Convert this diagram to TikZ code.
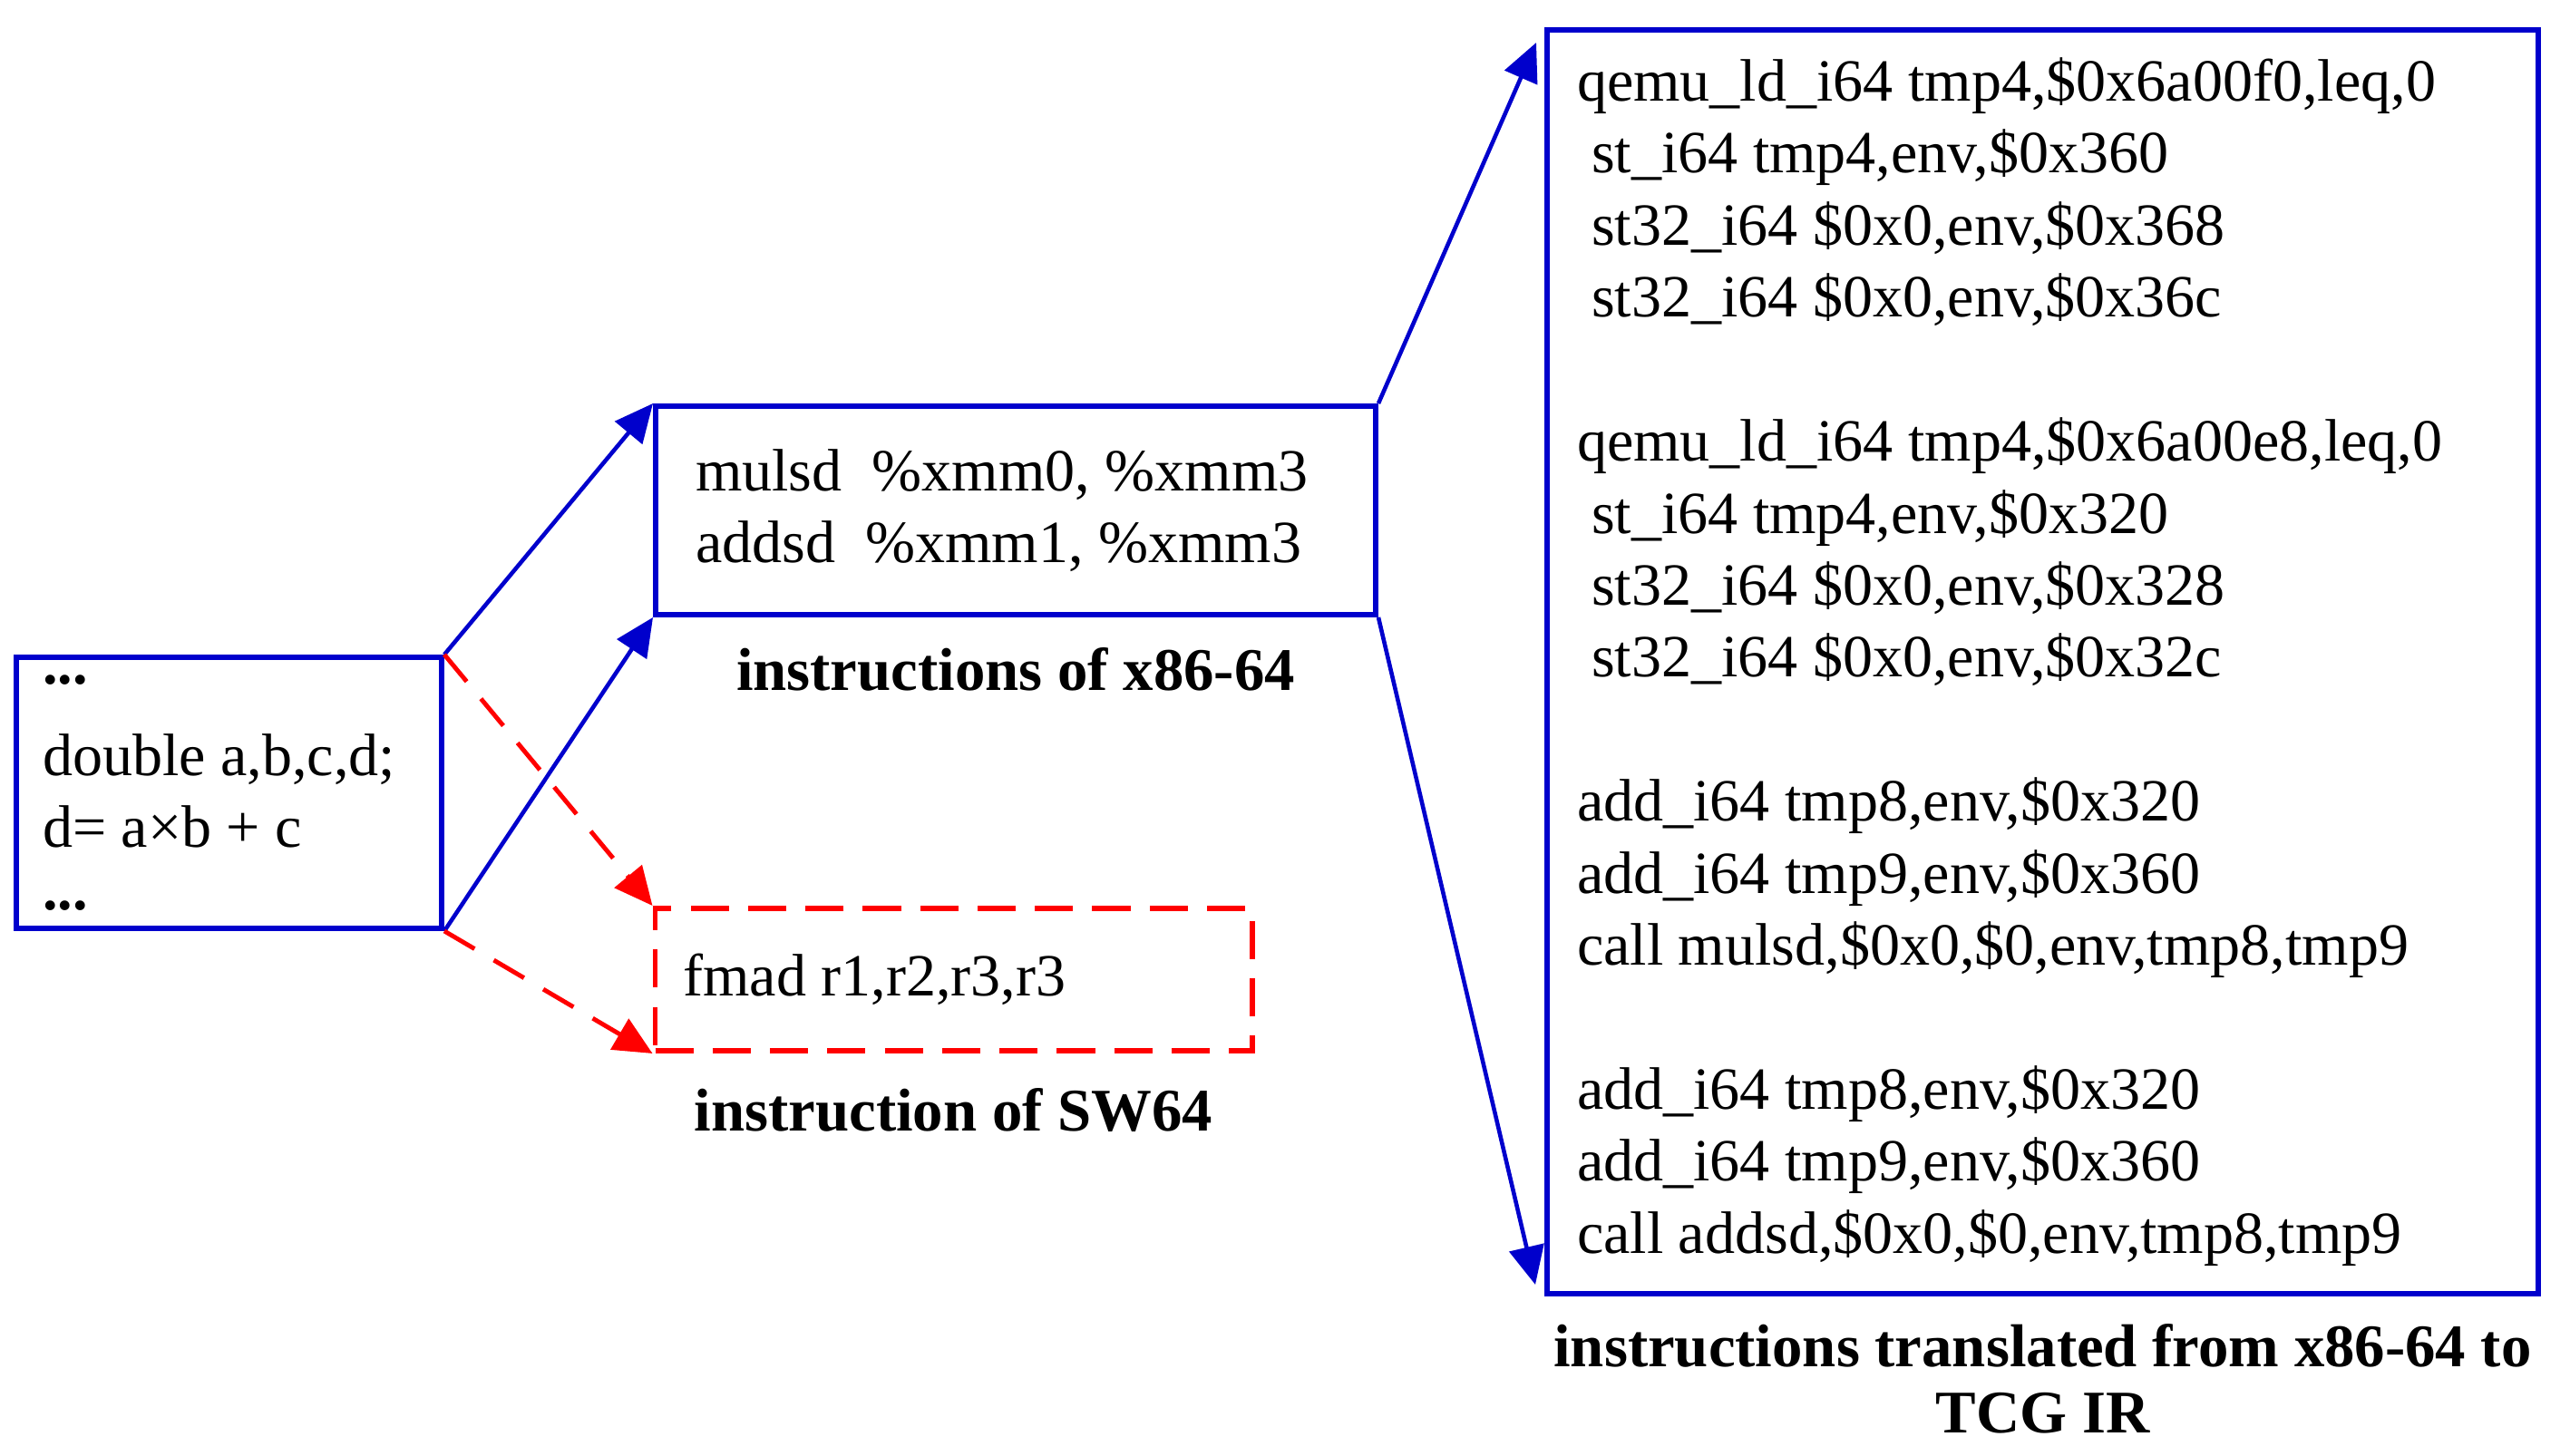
\documentclass[tikz,border=0pt]{standalone}
\usepackage{fontspec}
\setmainfont{Liberation Serif}
\usetikzlibrary{positioning,arrows.meta}
\definecolor{boxblue}{RGB}{0,0,204}
\definecolor{boxred}{RGB}{255,0,0}

\begin{document}
\begin{tikzpicture}[
  codebox/.style={draw=boxblue, line width=1.7pt, align=flush left, inner ysep=0pt, font=\fontsize{18.8}{22.6}\selectfont},
  swbox/.style={draw=boxred, line width=1.7pt, dash pattern=on 12pt off 6pt, align=flush left, inner ysep=0pt, font=\fontsize{18.8}{22.6}\selectfont},
  caption/.style={font=\fontsize{19}{20.8}\selectfont\bfseries, align=center, inner sep=0pt},
  bluearrow/.style={boxblue, line width=1.3pt, -{Triangle[length=12pt,width=11pt]}},
  redarrow/.style={boxred, line width=1.4pt, dash pattern=on 11pt off 7pt, -{Triangle[length=12pt,width=11pt]}}
]
\useasboundingbox (0,0) rectangle (28.34,-16.06);

% source code
\node[codebox, text width=4.11cm, inner xsep=0.29cm, minimum height=2.99cm] (src) at (2.525,-8.745)
  {\textbf{...}\\[0.21cm] double a,b,c,d;\\ d= a×b + c\\[-0.11cm] \textbf{...}};

% x86-64 and SW64
\node[codebox, text width=7.06cm, inner xsep=0.44cm, minimum height=2.30cm] (x86) at (11.20,-5.63)
  {mulsd\ \ \%xmm0, \%xmm3\\ addsd\ \ \%xmm1, \%xmm3};
\node[caption, below=0.33cm of x86] (lblx86) {instructions of x86-64};

\node[swbox, text width=5.96cm, inner xsep=0.31cm, minimum height=1.57cm] (sw) at (10.515,-10.805)
  {fmad r1,r2,r3,r3};
\node[caption, below=0.38cm of sw] (lblsw) {instruction of SW64};

% TCG IR
\node[codebox, text width=10.27cm, inner xsep=0.33cm, minimum height=13.94cm] (tcg) at (22.525,-7.30)
  {qemu\_ld\_i64 tmp4,\$0x6a00f0,leq,0\\
   \hspace*{0.16cm}st\_i64 tmp4,env,\$0x360\\
   \hspace*{0.16cm}st32\_i64 \$0x0,env,\$0x368\\
   \hspace*{0.16cm}st32\_i64 \$0x0,env,\$0x36c\\[0.794cm]
   qemu\_ld\_i64 tmp4,\$0x6a00e8,leq,0\\
   \hspace*{0.16cm}st\_i64 tmp4,env,\$0x320\\
   \hspace*{0.16cm}st32\_i64 \$0x0,env,\$0x328\\
   \hspace*{0.16cm}st32\_i64 \$0x0,env,\$0x32c\\[0.794cm]
   add\_i64 tmp8,env,\$0x320\\
   add\_i64 tmp9,env,\$0x360\\
   call mulsd,\$0x0,\$0,env,tmp8,tmp9\\[0.794cm]
   add\_i64 tmp8,env,\$0x320\\
   add\_i64 tmp9,env,\$0x360\\
   call addsd,\$0x0,\$0,env,tmp8,tmp9};
\node[caption, below=0.30cm of tcg] (lbltcg) {instructions translated from x86-64 to\\TCG IR};

\coordinate (tcgtop) at ([xshift=-0.09cm,yshift=-0.17cm]tcg.north west);
\coordinate (tcgbot) at ([xshift=-0.1cm,yshift=0.13cm]tcg.south west);

\draw[bluearrow] (src.north east) -- (x86.north west);
\draw[bluearrow] (src.south east) -- (x86.south west);
\draw[redarrow] (src.north east) -- (sw.north west);
\draw[redarrow] (src.south east) -- (sw.south west);
\draw[bluearrow] (x86.north east) -- (tcgtop);
\draw[bluearrow] (x86.south east) -- (tcgbot);
\end{tikzpicture}
\end{document}
